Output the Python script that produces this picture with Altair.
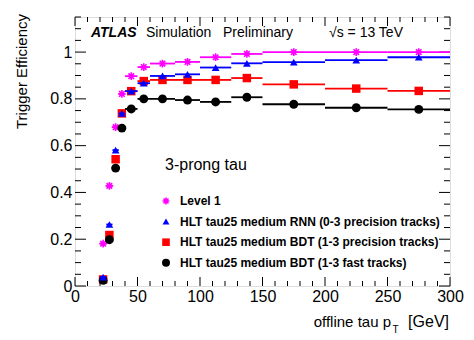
import altair as alt
import pandas as pd

# ---------------- data ----------------
bin_lo = [20, 25, 30, 35, 40, 50, 60, 80, 100, 125, 150, 200, 250]
bin_hi = [25, 30, 35, 40, 50, 60, 80, 100, 125, 150, 200, 250, 300]

eff_level1 = [0.181, 0.428, 0.679, 0.821, 0.897, 0.936, 0.951, 0.958, 0.978, 0.992, 1.000, 1.000, 1.000]
eff_rnn = [0.038, 0.263, 0.581, 0.738, 0.833, 0.867, 0.898, 0.905, 0.934, 0.952, 0.957, 0.966, 0.978]
eff_bdt_prec = [0.028, 0.218, 0.542, 0.738, 0.833, 0.876, 0.881, 0.881, 0.881, 0.889, 0.862, 0.844, 0.834]
eff_bdt_fast = [0.024, 0.198, 0.504, 0.675, 0.757, 0.800, 0.800, 0.795, 0.787, 0.807, 0.777, 0.762, 0.755]

series_names = [
    "Level 1",
    "HLT tau25 medium RNN (0-3 precision tracks)",
    "HLT tau25 medium BDT (1-3 precision tracks)",
    "HLT tau25 medium BDT (1-3 fast tracks)",
]
series_values = [eff_level1, eff_rnn, eff_bdt_prec, eff_bdt_fast]

x_tick_labels = [0, 50, 100, 150, 200, 250, 300]
y_tick_labels = [0, 0.2, 0.4, 0.6, 0.8, 1.0]
x_minor = [v for v in range(0, 301, 10) if v % 50 != 0]
y_minor = [round(0.05 * k, 2) for k in range(0, 24) if k % 4 != 0]

# ---------------- styles ----------------
W, H = 375, 269
FONT = "Liberation Sans"
ASTERISK = "M-1,0L1,0M0,-1L0,1M-0.72,-0.72L0.72,0.72M-0.72,0.72L0.72,-0.72"
styles = [
    dict(color="#ff00ff", shape=ASTERISK, filled=False, size=60, strokeWidth=1.6),
    dict(color="#0000ff", shape="triangle-up", filled=True, size=60, strokeWidth=0),
    dict(color="#ff0000", shape="square", filled=True, size=72, strokeWidth=0),
    dict(color="#000000", shape="circle", filled=True, size=80, strokeWidth=0),
]
draw_order = [0, 2, 3, 1]

xs = alt.Scale(domain=[0, 300], nice=False, zero=False)
ys = alt.Scale(domain=[0, 1.15], nice=False, zero=False)
xaxis = alt.Axis(values=x_tick_labels, ticks=False, domain=False, grid=False, title=None,
                 labelFont=FONT, labelFontSize=16, labelColor="black", labelPadding=2,
                 labelFlush=False, labelOverlap=False)
yaxis = alt.Axis(values=y_tick_labels, format="~g", ticks=False, domain=False, grid=False, title=None,
                 labelFont=FONT, labelFontSize=16, labelColor="black", labelPadding=3,
                 labelOverlap=False)

layers = []

# ---------------- frame ticks (inside, ROOT style) ----------------
def xticks(vals, ln):
    d = pd.DataFrame({"v": vals})
    bottom = alt.Chart(d).mark_rule(color="black", strokeWidth=1).encode(
        x=alt.X("v:Q", scale=xs, axis=xaxis), y=alt.value(H), y2=alt.value(H - ln))
    top = alt.Chart(d).mark_rule(color="black", strokeWidth=1).encode(
        x=alt.X("v:Q", scale=xs, axis=xaxis), y=alt.value(0), y2=alt.value(ln))
    return [bottom, top]

def yticks(vals, ln):
    d = pd.DataFrame({"v": vals})
    left = alt.Chart(d).mark_rule(color="black", strokeWidth=1).encode(
        y=alt.Y("v:Q", scale=ys, axis=yaxis), x=alt.value(0), x2=alt.value(ln))
    right = alt.Chart(d).mark_rule(color="black", strokeWidth=1).encode(
        y=alt.Y("v:Q", scale=ys, axis=yaxis), x=alt.value(W), x2=alt.value(W - ln))
    return [left, right]

layers += xticks(x_tick_labels, 9) + xticks(x_minor, 5)
layers += yticks(y_tick_labels, 11) + yticks(y_minor, 6)

# ---------------- data series ----------------
for i in draw_order:
    st = styles[i]
    df = pd.DataFrame({"lo": bin_lo, "hi": bin_hi, "eff": series_values[i]})
    df["mid"] = (df["lo"] + df["hi"]) / 2
    bars = alt.Chart(df).mark_rule(color=st["color"], strokeWidth=1.8).encode(
        x=alt.X("lo:Q", scale=xs, axis=xaxis), x2="hi:Q",
        y=alt.Y("eff:Q", scale=ys, axis=yaxis))
    pts = alt.Chart(df).mark_point(
        shape=st["shape"], filled=st["filled"], color=st["color"], size=st["size"],
        strokeWidth=st["strokeWidth"], opacity=1).encode(
        x=alt.X("mid:Q", scale=xs, axis=xaxis), y=alt.Y("eff:Q", scale=ys, axis=yaxis))
    layers += [bars, pts]

# ---------------- texts ----------------
def label(text, x, y, size=14, weight="normal", style="normal", align="left",
          baseline="alphabetic", angle=0):
    return alt.Chart(pd.DataFrame({"t": [text]})).mark_text(
        x=x, y=y, align=align, baseline=baseline, font=FONT, fontSize=size,
        fontWeight=weight, fontStyle=style, color="black", angle=angle).encode(text="t:N")

layers += [
    label("ATLAS", 16, 20, 14, weight="bold", style="italic"),
    label("Simulation", 71, 20, 14),
    label("Preliminary", 148, 20, 14),
    label("\u221as = 13 TeV", 254, 20, 14),
    label("3-prong tau", 90, 153, 16),
    label("Trigger Efficiency", -53, -3, 15, align="right", baseline="middle", angle=270),
    label("[GeV]", 374, 310, 16, align="right"),
    label("T", 320.5, 316, 10, align="center"),
    label("offline tau p", 316, 310, 15, align="right"),
]

# ---------------- legend ----------------
for i, name in enumerate(series_names):
    st = styles[i]
    yy = 184 + 20.6 * i
    d = pd.DataFrame({"t": [name]})
    layers.append(alt.Chart(d).mark_point(
        x=91, y=yy, shape=st["shape"], filled=st["filled"], color=st["color"],
        size=st["size"] * 0.8, strokeWidth=st["strokeWidth"], opacity=1).encode(
        opacity=alt.value(1)))
    layers.append(alt.Chart(d).mark_text(
        x=105, y=yy, align="left", baseline="middle", font=FONT, fontSize=12,
        fontWeight="bold", color="black").encode(text="t:N"))

chart = alt.layer(*layers).properties(
    width=W, height=H,
    autosize=alt.AutoSizeParams(type="none"),
    padding={"left": 75, "top": 17, "right": 24, "bottom": 54},
    background="white",
).configure_view(stroke="black", strokeWidth=1.5).configure(font=FONT)

chart.save("out.html", embed_options={"renderer": "svg", "actions": False})
